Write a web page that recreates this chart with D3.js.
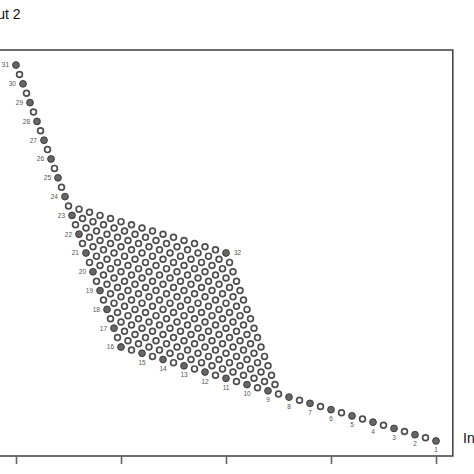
<!DOCTYPE html>
<html>
<head>
<meta charset="utf-8">
<script src="https://cdn.jsdelivr.net/npm/d3@7"></script>
<style>
  html, body { margin: 0; padding: 0; background: #fff; }
  svg { display: block; }
</style>
</head>
<body>
<div id="chart"></div>
<script>
// labelled units 1..32 (Input 1, Input 2)
const unitIds = [1, 2, 3, 4, 5, 6, 7, 8, 9, 10, 11, 12, 13, 14, 15, 16,
  17, 18, 19, 20, 21, 22, 23, 24, 25, 26, 27, 28, 29, 30, 31, 32];
const unitX = [20, 19, 18, 17, 16, 15, 14, 13, 12, 11, 10, 9, 8, 7, 6, 5,
  4.667, 4.333, 4, 3.667, 3.333, 3, 2.667, 2.333, 2, 1.667, 1.333, 1, 0.667, 0.333, 0, 10];
const unitY = [0, 0.333, 0.667, 1, 1.333, 1.667, 2, 2.333, 2.667, 3, 3.333, 3.667, 4, 4.333, 4.667, 5,
  6, 7, 8, 9, 10, 11, 12, 13, 14, 15, 16, 17, 18, 19, 20, 10];

// open points half way between neighbouring frontier units (1-2, 2-3, ... 30-31)
const midX = [19.5, 18.5, 17.5, 16.5, 15.5, 14.5, 13.5, 12.5, 11.5, 10.5, 9.5, 8.5, 7.5, 6.5, 5.5,
  4.833, 4.5, 4.167, 3.833, 3.5, 3.167, 2.833, 2.5, 2.167, 1.833, 1.5, 1.167, 0.833, 0.5, 0.167];
const midY = [0.167, 0.5, 0.833, 1.167, 1.5, 1.833, 2.167, 2.5, 2.833, 3.167, 3.5, 3.833, 4.167, 4.5, 4.833,
  5.5, 6.5, 7.5, 8.5, 9.5, 10.5, 11.5, 12.5, 13.5, 14.5, 15.5, 16.5, 17.5, 18.5, 19.5];

const xTicks = [0, 5, 10, 15, 20];
const xTitle = "Input 1";
const yTitle = "Input 2";

const W = 474, H = 474;
const x = d3.scaleLinear().domain([-0.8, 20.8]).range([-0.8, 452.8]);
const y = d3.scaleLinear().domain([-0.8, 20.8]).range([456, 50]);

const units = unitIds.map((id, i) => ({id, x: unitX[i], y: unitY[i]}));
const mids = midX.map((v, i) => ({x: v, y: midY[i]}));

// frontier chain from unit 16 upwards (16, 16.5, 17 ... 23.5) and downwards (16, 15.5 ... 8.5)
const chain = [];
units.slice(0, 31).forEach((u, i) => {
  chain.push(u);
  if (i < 30) chain.push(mids[i]);
});
const c16 = chain.indexOf(units[15]);
const up = chain.slice(c16, c16 + 16);
const down = chain.slice(c16 - 15, c16 + 1).reverse();

// interior cloud: combinations of the two frontier arms hanging off unit 16
const cloud = [];
for (let a = 1; a < up.length; a++) {
  for (let b = 1; b < down.length; b++) {
    if (a === up.length - 1 && b === down.length - 1) continue; // that one is unit 32
    cloud.push({x: up[a].x + down[b].x - units[15].x, y: up[a].y + down[b].y - units[15].y});
  }
}

const svg = d3.select("#chart").append("svg")
  .attr("width", W).attr("height", H)
  .style("font-family", "Liberation Sans, Arial, sans-serif");

// plot box
svg.append("rect")
  .attr("x", x(-0.8)).attr("y", y(20.8))
  .attr("width", x(20.8) - x(-0.8)).attr("height", y(-0.8) - y(20.8))
  .attr("fill", "none").attr("stroke", "#4a4a4a").attr("stroke-width", 1.6);

// bottom axis ticks (labels fall outside the frame)
svg.append("g")
  .attr("transform", `translate(0,${y(-0.8)})`)
  .call(d3.axisBottom(x).tickValues(xTicks).tickSize(8).tickFormat(""))
  .call(g => g.select(".domain").remove())
  .call(g => g.selectAll("line").attr("stroke", "#666").attr("stroke-width", 1.6));

svg.append("text")
  .attr("x", 20.5).attr("y", 19)
  .attr("text-anchor", "end")
  .attr("font-size", 14).attr("fill", "#111")
  .text(yTitle);

svg.append("text")
  .attr("x", 463).attr("y", 443)
  .attr("font-size", 14).attr("fill", "#111")
  .text(xTitle);

const pts = cloud.concat(mids);
svg.append("g")
  .selectAll("circle")
  .data(pts)
  .join("circle")
    .attr("cx", d => x(d.x))
    .attr("cy", d => y(d.y))
    .attr("r", 2.9)
    .attr("fill", "#fff")
    .attr("stroke", "#4d4d4d")
    .attr("stroke-width", 1.7);

svg.append("g")
  .selectAll("circle")
  .data(units)
  .join("circle")
    .attr("cx", d => x(d.x))
    .attr("cy", d => y(d.y))
    .attr("r", 3.4)
    .attr("fill", "#666")
    .attr("stroke", "#333")
    .attr("stroke-width", 0.9);

svg.append("g")
  .selectAll("text")
  .data(units)
  .join("text")
    .attr("x", d => d.id === 32 ? x(d.x) + 8 : d.id >= 16 ? x(d.x) - 7 : x(d.x))
    .attr("y", d => d.id >= 16 ? y(d.y) + 2.4 : y(d.y) + 11.5)
    .attr("text-anchor", d => d.id === 32 ? "start" : d.id >= 16 ? "end" : "middle")
    .attr("font-size", 6.5)
    .attr("fill", "#555")
    .text(d => d.id);
</script>
</body>
</html>
